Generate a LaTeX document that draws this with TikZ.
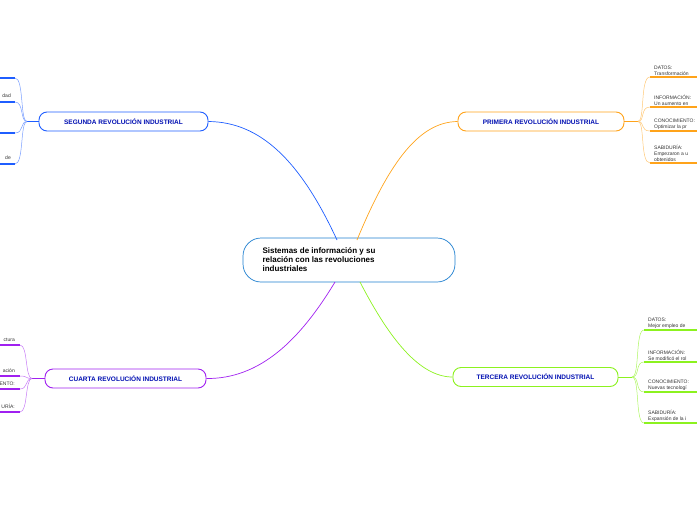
\documentclass[tikz,border=0pt]{standalone}
\usepackage{fontspec}
\setmainfont{Liberation Sans}
\definecolor{cor}{HTML}{FFA31A}
\definecolor{cbl}{HTML}{1F5EFF}
\definecolor{cgr}{HTML}{8CF21F}
\definecolor{cpu}{HTML}{A020F0}
\definecolor{cce}{HTML}{1E7FD0}
\begin{document}
\begin{tikzpicture}[x=1pt,y=-1pt,
  branch/.style={draw,rounded corners=8pt,line width=0.9pt,fill=white,minimum height=19pt,inner xsep=0pt,font=\fontsize{6.5}{7}\selectfont\bfseries,text=black!80!green!30!blue},
  leaf/.style={font=\fontsize{5}{6}\selectfont,align=left,anchor=south west,inner sep=1pt,text=black!80},
  leafr/.style={font=\fontsize{5}{6}\selectfont,align=right,anchor=south east,inner sep=1pt,text=black!80},
  con/.style={line width=0.7pt}]
\useasboundingbox (0,0) rectangle (697,520);
\node[draw=cce,rounded corners=18pt,line width=0.7pt,minimum width=212pt,minimum height=44pt,fill=white] (c) at (349,260) {};
\node[font=\fontsize{8}{9}\selectfont\bfseries,align=left,anchor=west] (ct) at (259,260) {Sistemas de información y su\\relación con las revoluciones\\industriales};
% branches
\node[branch,draw=cor,minimum width=166pt] (p1) at (541,121.5) {PRIMERA REVOLUCIÓN INDUSTRIAL};
\node[branch,draw=cbl,minimum width=169pt] (p2) at (123.5,121.5) {SEGUNDA REVOLUCIÓN INDUSTRIAL};
\node[branch,draw=cgr,minimum width=165pt] (p3) at (535.5,377) {TERCERA REVOLUCIÓN INDUSTRIAL};
\node[branch,draw=cpu,minimum width=161pt] (p4) at (125.5,378.5) {CUARTA REVOLUCIÓN INDUSTRIAL};
\draw[con,cor] (357,240) .. controls (390,160) and (420,122) .. (p1.west);
\draw[con,cbl] (337,240) .. controls (300,160) and (260,122) .. (p2.east);
\draw[con,cgr] (360,282) .. controls (390,340) and (420,377) .. (p3.west);
\draw[con,cpu] (335,282) .. controls (300,340) and (260,379) .. (p4.east);
% orange leaves
\coordinate (oh) at (638,121.5);
\draw[con,cor] (p1.east) -- (oh);
\foreach \y/\t in {77/{DATOS:\\Transformación},107/{INFORMACIÓN:\\Un aumento en},131/{CONOCIMIENTO:\\Optimizar la pr},163/{SABIDURÍA:\\Empezaron a u\\obtenidos}}{
  \node[leaf] (o\y) at (653,\y) {\t};
  \draw[con,cor!60,line width=0.5pt] (oh) .. controls (645,121.5) and (640,\y) .. (650,\y);
  \draw[cor,line width=1.2pt] (650,\y) -- (697,\y);
}
% green leaves
\coordinate (gh) at (632,377);
\draw[con,cgr] (p3.east) -- (gh);
\foreach \y/\t in {330/{DATOS:\\Mejor empleo de},362/{INFORMACIÓN:\\Se modificó el rol},392/{CONOCIMIENTO:\\Nuevas tecnologí},423/{SABIDURÍA:\\Expansión de la i}}{
  \node[leaf] (g\y) at (647,\y) {\t};
  \draw[con,cgr!70,line width=0.5pt] (gh) .. controls (640,377) and (635,\y) .. (644,\y);
  \draw[cgr,line width=1.2pt] (644,\y) -- (697,\y);
}
% blue leaves
\coordinate (bh) at (27,121.5);
\draw[con,cbl] (p2.west) -- (bh);
\foreach \y/\t in {78/{},102/{dad},133/{},164/{de}}{
  \node[leafr] (b\y) at (12,\y-3) {\t};
  \draw[con,cbl!60,line width=0.5pt] (bh) .. controls (20,121.5) and (24,\y) .. (15,\y);
  \draw[cbl,line width=1.2pt] (15,\y) -- (0,\y);
}
% purple leaves
\coordinate (uh) at (32,378.5);
\draw[con,cpu] (p4.west) -- (uh);
\foreach \y/\t in {345/{ctura},376/{ación},389/{ENTO:},412/{URÍA:}}{
  \node[leafr] (u\y) at (16,\y-2) {\t};
  \draw[con,cpu!60,line width=0.5pt] (uh) .. controls (25,378.5) and (28,\y) .. (20,\y);
  \draw[cpu,line width=1.2pt] (20,\y) -- (0,\y);
}
\end{tikzpicture}
\end{document}
